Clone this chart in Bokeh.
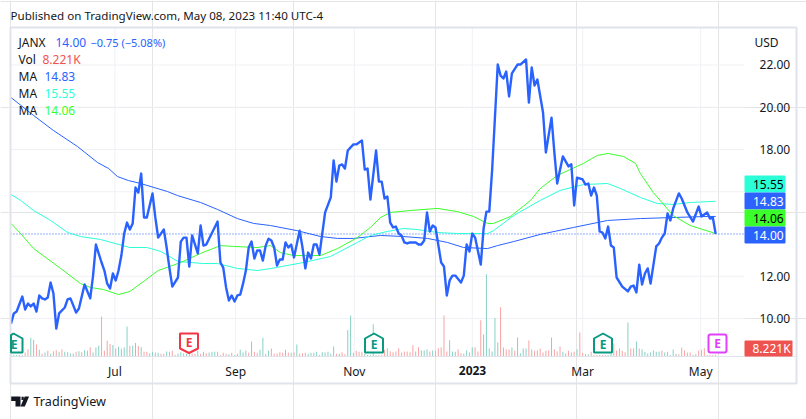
from bokeh.plotting import figure
from bokeh.models import (Range1d, LinearAxis, FixedTicker, NumeralTickFormatter, Label,
                          BoxAnnotation, PolyAnnotation, ColumnDataSource)
from bokeh.embed import file_html
from bokeh.resources import INLINE

price_bar = [0,1,2,4,5,6,7,8,9,10,11,12,13,14,15,16,17,19,20,21,23,24,26,28,29,30,32,33,34,35,36,37,38,39,40,41,42,43,44,45,46,47,48,50,51,52,54,55,56,57,59,60,61,62,63,64,66,67,68,69,73,74,75,76,77,78,79,80,81,82,83,84,85,86,87,88,89,90,91,92,93,94,95,96,97,98,99,100,102,103,104,105,106,107,108,109,111,113,114,115,116,117,118,119,121,122,124,125,126,127,129,130,131,132,133,134,135,136,137,138,139,140,141,143,144,145,146,147,148,149,150,152,153,154,155,156,157,159,160,161,162,163,164,166,167,168,169,170,171,172,173,174,175,176,177,179,180,182,183,184,185,186,188,189,191,192,193,195,197,198,199,200,202,203,204,205,206,207,208,209,210,211,212,213,214,216,218,219,220,221,222,223,224,225,226,228,229,230,231,232,233,234,236,237,239,241,243,244,246,247,248,249]
price = [9.76,10.24,10.33,11.04,10.42,10.71,10.57,10.71,10.33,11.09,10.95,10.90,10.99,11.70,11.18,9.52,10.24,10.52,10.90,10.95,10.28,10.47,11.61,10.95,12.03,13.50,12.65,12.27,11.65,11.42,12.13,11.80,12.27,12.98,14.02,14.54,14.21,14.50,16.20,15.96,16.86,14.78,14.78,15.92,14.78,13.83,14.21,13.36,12.37,11.51,11.94,13.64,13.83,13.83,12.46,13.93,13.08,14.40,13.45,13.50,14.59,12.65,12.41,11.47,10.85,11.09,10.80,11.09,11.13,11.65,12.27,13.36,13.64,12.84,13.22,13.22,12.74,13.45,13.78,13.69,13.36,12.51,12.79,12.79,13.60,13.36,13.50,12.89,14.16,13.36,12.37,13.12,12.84,13.50,13.50,13.03,15.02,15.73,17.48,16.48,17.24,17.29,17.10,17.95,18.24,18.24,18.43,17.05,17.10,15.63,17.95,16.48,16.48,15.68,15.77,14.54,14.31,14.35,14.02,13.93,13.60,13.55,13.60,13.60,13.50,13.50,13.69,15.02,14.12,14.40,14.31,12.65,12.46,11.09,11.80,12.03,12.03,11.70,12.03,13.50,13.17,14.02,13.83,12.55,14.26,15.06,15.06,17.00,19.50,22.02,21.50,21.36,21.69,20.51,21.60,22.02,22.02,22.26,20.22,21.88,21.03,21.31,19.75,17.86,19.51,17.86,16.39,17.67,17.20,17.30,15.35,16.67,16.58,16.34,16.39,15.82,16.20,15.82,14.12,14.07,13.79,14.35,13.45,13.36,11.94,11.51,11.28,11.51,11.56,11.23,12.55,11.61,12.13,12.37,11.65,13.41,13.55,13.83,14.02,14.97,14.64,15.21,15.92,15.68,15.02,14.59,15.30,14.83,15.02,14.73,14.78,14.00]

ma_long_bar = [0,8,15,23.5,30.6,34.5,37.6,41.5,45.8,55.3,58.8,67,73,80,85.7,91.7,101,109.4,115.4,121,130.6,138.7,147.2,154.2,159.9,168.4,171.9,177.6,187,198.8,210.8,222.4,234,246,249]
ma_long = [20.46,19.61,18.90,18.14,17.38,17.10,16.72,16.53,16.39,16.01,15.82,15.49,15.16,14.73,14.50,14.40,14.16,13.88,13.79,13.79,13.93,13.88,13.79,13.60,13.36,13.31,13.45,13.64,13.98,14.31,14.64,14.73,14.78,14.83,14.83]
ma_mid_bar = [0,3.4,8,14,20,24.6,31.6,42,48,53,59,68,73,80,87,92,103.3,112.8,122.4,127,133,138.7,143.6,150.7,157.8,163.4,168.4,170.5,177.6,187,194,202.3,210.8,215.4,222.4,228.4,234,240,249]
ma_mid = [15.87,15.59,15.11,14.64,14.07,13.88,13.74,13.36,13.36,13.17,12.70,12.60,12.60,12.37,12.27,12.37,12.65,12.93,13.60,13.93,14.12,14.26,14.21,14.07,14.02,14.02,14.02,14.16,14.87,15.59,16.06,16.34,16.39,16.15,15.73,15.44,15.40,15.49,15.55]
ma_short_bar = [0,3.4,8,17.5,24.6,28,32.7,38,42,46.8,52,60,67,74,78.6,87,91.7,95.2,99.8,109.4,115.4,122.4,127,130.6,134,141,150.7,157.8,163.4,168.4,170.5,176.5,183.6,187,193,202.3,207.2,211,216.4,220.7,222.4,227,234,240,249]
ma_short = [14.50,14.02,13.31,12.37,11.65,11.47,11.37,11.13,11.28,11.75,12.27,12.65,13.08,13.45,13.41,13.36,13.45,13.12,12.98,12.98,13.31,13.83,14.31,14.78,15.02,15.11,15.21,15.06,14.83,14.50,14.50,14.83,15.59,16.15,16.77,17.34,17.72,17.81,17.67,17.34,16.86,15.96,14.87,14.40,14.02]

volume_k = [8,8,8,8,8,20,36,92,82,59,
 33,13,20,28,13,26,31,23,36,23,
 21,15,15,23,26,21,31,28,46,20,
 44,54,197,28,77,62,57,39,48,38,
 44,148,52,54,67,52,46,23,23,16,
 23,20,18,13,13,25,23,28,8,15,
 21,16,13,16,13,13,28,13,23,16,
 20,23,23,23,8,18,13,11,18,7,
 13,33,20,30,18,74,23,16,33,92,
 13,28,39,13,15,21,18,33,20,18,
 20,59,13,16,18,13,18,18,23,8,
 21,20,23,13,49,13,13,21,11,131,
 202,18,28,23,23,13,8,8,159,8,
 8,8,33,41,26,21,25,41,20,25,
 25,21,56,25,46,31,30,34,25,30,
 28,41,46,202,25,80,25,23,34,16,
 13,31,20,46,46,25,179,108,405,39,
 25,189,69,243,44,34,34,44,28,93,
 16,39,39,79,34,28,30,39,20,28,
 30,93,36,25,49,23,15,28,20,23,
 34,118,18,13,11,23,8,8,8,8,
 8,8,13,64,30,39,28,21,167,39,
 39,74,39,36,23,15,20,30,23,25,
 30,20,23,8,34,13,11,44,30,20,
 20,8,11,30,33,41,8,8,8,8.221]
volume_dir = ("uuuuudduud" "udududdudu" "uuududuudu" "uudddduduu" "uuduududdu"
              "ududdudduu" "uduuddudud" "uuuddddudu" "duuududduu" "dudddddudu"
              "duddduuuud" "uuuuududdu" "uuddduuuuu" "dddudddddd" "ddduduuudu"
              "ddddduuudd" "uududdduuu" "uuududdudu" "uuududdddd" "duddduudud"
              "uddduddddd" "duudddddud" "duduuuuuuu" "duduuudddd" "duuddddddd")

axis_bars = [36.7, 79.4, 121.3, 163, 202, 243.7]
axis_names = ["Jul", "Sep", "Nov", "", "Mar", "May"]
year_label = "2023"
label_ticks = [10, 12, 18, 20, 22]
grid_prices = [10, 12, 16, 18, 20, 22]

TEXT = "#131722"
BLUE = "#2962ff"
CYAN = "#2bffd8"
GREEN = "#3bff2a"
RED = "#f23645"
GRID = "#f0f1f5"
EDGE = "#e0e3eb"
FONT = "Noto Sans"

# The plotting frame fills the page; pane limits in data terms
BAR_L, BAR_R, BAR_FAR = -0.18, 259.2, 277.6
P_TOP, P_BOTTOM = 23.775, 8.20

p = figure(width=806, height=419, output_backend="svg", toolbar_location=None,
           x_range=Range1d(-3.71, 281.1), y_range=Range1d(5.218, 25.053),
           x_axis_location=None, y_axis_location=None,
           min_border_left=0, min_border_right=0, min_border_top=0, min_border_bottom=0)
p.outline_line_color = None
p.background_fill_color = "white"
p.extra_y_ranges = {"vol": Range1d(-310, 1752)}

# grid, limited to the chart pane
p.segment(x0=axis_bars, x1=axis_bars, y0=[P_BOTTOM] * 6, y1=[P_TOP] * 6, line_color=GRID, line_width=1)
p.segment(x0=[BAR_L] * 6, x1=[BAR_R] * 6, y0=grid_prices, y1=grid_prices, line_color=GRID, line_width=1)

yax = LinearAxis(fixed_location=BAR_R, ticker=FixedTicker(ticks=label_ticks),
                 formatter=NumeralTickFormatter(format="0.00"))
xax = LinearAxis(fixed_location=P_BOTTOM, ticker=FixedTicker(ticks=axis_bars),
                 major_label_overrides={b: n for b, n in zip(axis_bars, axis_names)},
                 bounds=(BAR_L, BAR_FAR))
p.add_layout(yax, "right")
p.add_layout(xax, "below")
for ax in (xax, yax):
    ax.major_tick_line_color = None
    ax.minor_tick_line_color = None
    ax.major_label_text_font = FONT
    ax.major_label_text_font_size = "12px"
    ax.major_label_text_color = TEXT
yax.axis_line_color = None
yax.major_label_standoff = 9
xax.axis_line_color = EDGE
xax.major_label_standoff = 0

bars = list(range(len(volume_k)))
vol_src = ColumnDataSource(dict(bar=bars, vol=volume_k,
                                col=["#8ad1c5" if d == "u" else "#f9a5a5" for d in volume_dir]))
p.vbar(x="bar", top="vol", bottom=0, width=0.36, source=vol_src, fill_color="col",
       line_color=None, y_range_name="vol")

p.line([BAR_L, BAR_R], [price[-1], price[-1]], line_color=BLUE, line_width=1, line_dash=[1, 2])
p.line(ma_long_bar, ma_long, line_color=BLUE, line_width=1)
p.line(ma_mid_bar, ma_mid, line_color=CYAN, line_width=1)
p.line(ma_short_bar, ma_short, line_color=GREEN, line_width=1)
p.line(price_bar, price, line_color=BLUE, line_width=2.4, line_join="round")


def text(s, x, y, color=TEXT, size="12px", style="normal", align="left"):
    p.add_layout(Label(x=x, y=y, x_units="canvas", y_units="canvas", text=s, text_color=color,
                       text_font=FONT, text_font_size=size, text_font_style=style,
                       text_align=align, text_baseline="middle", level="overlay"))


def box(l, t, r, b, fill=None, line=None, width=1, radius=0):
    p.add_layout(BoxAnnotation(left=l, right=r, top=t, bottom=b,
                               left_units="canvas", right_units="canvas", top_units="canvas", bottom_units="canvas",
                               fill_color=fill if fill else "white", fill_alpha=1 if fill else 0,
                               line_color=line if line else "white", line_width=width, line_alpha=1 if line else 0,
                               border_radius=radius, level="overlay"))


def poly(pts, fill="white", line=None, width=2):
    p.add_layout(PolyAnnotation(xs=[a for a, _ in pts], ys=[b for _, b in pts],
                                xs_units="canvas", ys_units="canvas",
                                fill_color=fill, fill_alpha=1, line_color=line, line_width=width,
                                line_alpha=1 if line else 0, level="overlay"))


# frame
box(10, 27, 796, 383, line=EDGE, width=2)

# earnings markers (drawn first so the letters sit on top)
TEAL = "#089981"
PINK = "#e040fb"


def house(cx, left=None):
    pts = [(cx - 9, 352), (cx - 9, 338), (cx, 333), (cx + 9, 338), (cx + 9, 352)]
    if left is not None:
        pts = [(left, 352), (left, 334.7), (cx, 333), (cx + 9, 338), (cx + 9, 352)]
    poly(pts, line=TEAL)


house(13, left=10.5)
house(373.5)
house(602.5)
poly([(179.5, 333), (197.5, 333), (197.5, 348), (188.5, 352.5), (179.5, 348)], line=RED)
box(708, 334, 726, 352, fill="white", line=PINK, width=2, radius=2)
for cx, cy, col in [(13.5, 344, TEAL), (373.5, 344, TEAL), (602.5, 344, TEAL), (188.5, 342, RED), (717, 343, PINK)]:
    text("E", cx, cy, col, "12px", "bold", "center")

# header & legend
text("Published on TradingView.com, May 08, 2023 11:40 UTC-4", 10, 14.5, size="11.6px")
text("JANX", 18, 42)
text("14.00", 55, 42, BLUE)
text("−0.75 (−5.08%)", 90, 42, BLUE, size="11px")
text("Vol", 18, 59)
text("8.221K", 42, 59, "#ef5350")
for y, val, col in [(76, "14.83", BLUE), (93, "15.55", CYAN), (110, "14.06", GREEN)]:
    text("MA", 18, y)
    text(val, 44, y, col)
text("USD", 754, 42)

# year label
text(year_label, 472, 370, TEXT, "12px", "bold", "center")

# price badges
for top, val, bg, fg in [(175, "15.55", CYAN, "#000000"), (192, "14.83", "#2d62ff", "#ffffff"),
                         (209, "14.06", GREEN, "#000000"), (226, "14.00", BLUE, "#ffffff")]:
    box(744, top, 785, top + 17, fill=bg, radius=1)
    text(val, 752.5, top + 8.7, fg)
box(744, 340, 792, 356, fill="#ef5350", radius=1)
text("8.221K", 752, 348.2, "#ffffff")

# TradingView logo
poly([(10.7, 396), (20, 396), (20, 406), (15, 406), (15, 400.5), (10.7, 400.5)], fill=TEXT)
poly([(24.2, 396), (28.6, 396), (24.3, 406), (20, 406)], fill=TEXT)
poly([(21, 396.3), (23.3, 396.3), (23.3, 399.5), (21, 399.5)], fill=TEXT)
text("TradingView", 33, 401, TEXT, "12.6px")

open("out.html", "w").write(file_html(p, INLINE))
